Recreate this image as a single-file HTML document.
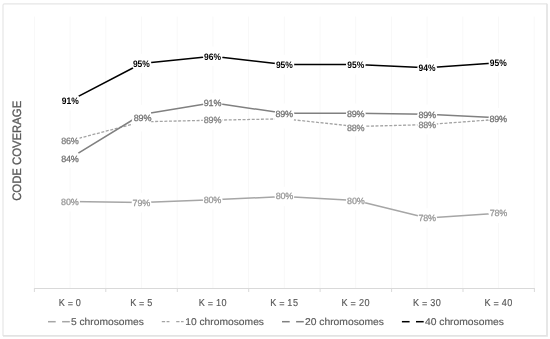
<!DOCTYPE html>
<html><head><meta charset="utf-8"><title>Code coverage chart</title>
<style>html,body{margin:0;padding:0;background:#fff;width:550px;height:339px;overflow:hidden}svg{display:block;text-rendering:geometricPrecision}</style>
</head><body>
<svg width="550" height="339" viewBox="0 0 550 339">
<rect x="0" y="0" width="550" height="339" fill="#fff"/>
<path d="M3 335.9V5.3Q3 3.8 4.5 3.8H547" stroke="#e6e6e6" stroke-width="1.2" fill="none"/>
<path d="M547 3.8V335.9H3" stroke="#e3e3e3" stroke-width="1.7" fill="none"/>
<path d="M34.4 16.5V288 M70.1 16.5V288 M105.8 16.5V288 M141.5 16.5V288 M177.2 16.5V288 M212.9 16.5V288 M248.6 16.5V288 M284.3 16.5V288 M320.0 16.5V288 M355.7 16.5V288 M391.4 16.5V288 M427.1 16.5V288 M462.8 16.5V288 M498.5 16.5V288 M534.2 16.5V288" stroke="#f8f8f8" stroke-width="1" fill="none"/>
<path d="M34.4 288.5H534.6 M34.4 288V292 M105.8 288V292 M177.3 288V292 M248.7 288V292 M320.1 288V292 M391.6 288V292 M463.0 288V292 M534.4 288V292" stroke="#d9d9d9" stroke-width="1" fill="none"/>
<text transform="scale(0.9 1)" x="65.27 65.77 75.16 75.66 84.30" y="306" dy="0 0 0.8 -0.8 0" font-family='"Liberation Sans", Arial, sans-serif' font-size="10.1" fill="#595959" stroke="#595959" stroke-width="0.15">K = 0</text>
<text transform="scale(0.9 1)" x="144.64 145.14 154.53 155.03 163.68" y="306" dy="0 0 0.8 -0.8 0" font-family='"Liberation Sans", Arial, sans-serif' font-size="10.1" fill="#595959" stroke="#595959" stroke-width="0.15">K = 5</text>
<text transform="scale(0.9 1)" x="220.78 221.28 230.84 231.34 239.90 246.20" y="306" dy="0 0 0.8 -0.8 0 0" font-family='"Liberation Sans", Arial, sans-serif' font-size="10.1" fill="#595959" stroke="#595959" stroke-width="0.15">K = 10</text>
<text transform="scale(0.9 1)" x="300.15 300.65 310.21 310.71 319.26 325.58" y="306" dy="0 0 0.8 -0.8 0 0" font-family='"Liberation Sans", Arial, sans-serif' font-size="10.1" fill="#595959" stroke="#595959" stroke-width="0.15">K = 15</text>
<text transform="scale(0.9 1)" x="379.52 380.02 389.58 390.08 398.77 404.94" y="306" dy="0 0 0.8 -0.8 0 0" font-family='"Liberation Sans", Arial, sans-serif' font-size="10.1" fill="#595959" stroke="#595959" stroke-width="0.15">K = 20</text>
<text transform="scale(0.9 1)" x="458.88 459.38 468.94 469.44 478.17 484.30" y="306" dy="0 0 0.8 -0.8 0 0" font-family='"Liberation Sans", Arial, sans-serif' font-size="10.1" fill="#595959" stroke="#595959" stroke-width="0.15">K = 30</text>
<text transform="scale(0.9 1)" x="538.25 538.75 548.31 548.81 557.53 563.67" y="306" dy="0 0 0.8 -0.8 0 0" font-family='"Liberation Sans", Arial, sans-serif' font-size="10.1" fill="#595959" stroke="#595959" stroke-width="0.15">K = 40</text>
<text transform="translate(21.2 150.8) rotate(-90)" text-anchor="middle" font-family='"Liberation Sans", Arial, sans-serif' font-size="12.2" fill="#595959" stroke="#595959" stroke-width="0.3" textLength="100" lengthAdjust="spacingAndGlyphs">CODE COVERAGE</text>
<path d="M70.2 201.6 L141.5 202.6 L212.7 199.8 L284.4 196.5 L355.8 200.5 L427.2 218.0 L498.4 213.2" stroke="#a6a6a6" stroke-width="1.5" fill="none" stroke-linejoin="round"/>
<path d="M70.2 140.6 L141.5 121.8 L212.7 120.2 L284.4 118.8 L355.8 126.5 L427.2 124.6 L498.4 119.3" stroke="#a4a4a4" stroke-width="1.3" fill="none" stroke-linejoin="round" stroke-dasharray="3,1.6"/>
<path d="M70.2 158.2 L141.5 114.5 L212.7 102.8 L284.4 113.3 L355.8 113.2 L427.2 114.2 L498.4 117.8" stroke="#808080" stroke-width="1.5" fill="none" stroke-linejoin="round"/>
<path d="M70.2 100.7 L141.5 63.5 L212.7 56.3 L284.4 64.6 L355.8 64.6 L427.2 67.8 L498.4 62.7" stroke="#000000" stroke-width="1.5" fill="none" stroke-linejoin="round"/>
<circle cx="70.2" cy="201.6" r="9.8" fill="#fff"/>
<circle cx="141.5" cy="202.6" r="9.8" fill="#fff"/>
<circle cx="212.7" cy="199.8" r="9.8" fill="#fff"/>
<circle cx="284.4" cy="196.5" r="9.8" fill="#fff"/>
<circle cx="355.8" cy="200.5" r="9.8" fill="#fff"/>
<circle cx="427.2" cy="218.0" r="9.8" fill="#fff"/>
<circle cx="498.4" cy="213.2" r="9.8" fill="#fff"/>
<circle cx="70.2" cy="140.6" r="9.8" fill="#fff"/>
<circle cx="141.5" cy="121.8" r="9.8" fill="#fff"/>
<circle cx="212.7" cy="120.2" r="9.8" fill="#fff"/>
<circle cx="284.4" cy="118.8" r="9.8" fill="#fff"/>
<circle cx="355.8" cy="126.5" r="9.8" fill="#fff"/>
<circle cx="427.2" cy="124.6" r="9.8" fill="#fff"/>
<circle cx="498.4" cy="119.3" r="9.8" fill="#fff"/>
<circle cx="70.2" cy="158.2" r="9.8" fill="#fff"/>
<circle cx="141.5" cy="114.5" r="9.8" fill="#fff"/>
<circle cx="212.7" cy="102.8" r="9.8" fill="#fff"/>
<circle cx="284.4" cy="113.3" r="9.8" fill="#fff"/>
<circle cx="355.8" cy="113.2" r="9.8" fill="#fff"/>
<circle cx="427.2" cy="114.2" r="9.8" fill="#fff"/>
<circle cx="498.4" cy="117.8" r="9.8" fill="#fff"/>
<circle cx="70.2" cy="100.7" r="9.8" fill="#fff"/>
<circle cx="141.5" cy="63.5" r="9.8" fill="#fff"/>
<circle cx="212.7" cy="56.3" r="9.8" fill="#fff"/>
<circle cx="284.4" cy="64.6" r="9.8" fill="#fff"/>
<circle cx="355.8" cy="64.6" r="9.8" fill="#fff"/>
<circle cx="427.2" cy="67.8" r="9.8" fill="#fff"/>
<circle cx="498.4" cy="62.7" r="9.8" fill="#fff"/>
<text x="69.8" y="204.72" text-anchor="middle" font-family='"Liberation Sans", Arial, sans-serif' font-size="9.0" fill="#999999" stroke="#999999" stroke-width="0.3" letter-spacing="-0.2">80%</text>
<text x="141.3" y="206.12" text-anchor="middle" font-family='"Liberation Sans", Arial, sans-serif' font-size="9.0" fill="#999999" stroke="#999999" stroke-width="0.3" letter-spacing="-0.2">79%</text>
<text x="212.4" y="203.22" text-anchor="middle" font-family='"Liberation Sans", Arial, sans-serif' font-size="9.0" fill="#999999" stroke="#999999" stroke-width="0.3" letter-spacing="-0.2">80%</text>
<text x="284.4" y="199.22" text-anchor="middle" font-family='"Liberation Sans", Arial, sans-serif' font-size="9.0" fill="#999999" stroke="#999999" stroke-width="0.3" letter-spacing="-0.2">80%</text>
<text x="355.8" y="203.92" text-anchor="middle" font-family='"Liberation Sans", Arial, sans-serif' font-size="9.0" fill="#999999" stroke="#999999" stroke-width="0.3" letter-spacing="-0.2">80%</text>
<text x="427.2" y="221.32" text-anchor="middle" font-family='"Liberation Sans", Arial, sans-serif' font-size="9.0" fill="#999999" stroke="#999999" stroke-width="0.3" letter-spacing="-0.2">78%</text>
<text x="498.4" y="216.12" text-anchor="middle" font-family='"Liberation Sans", Arial, sans-serif' font-size="9.0" fill="#999999" stroke="#999999" stroke-width="0.3" letter-spacing="-0.2">78%</text>
<text x="69.9" y="144.07" text-anchor="middle" font-family='"Liberation Sans", Arial, sans-serif' font-size="9.0" fill="#808080" stroke="#808080" stroke-width="0.3" letter-spacing="-0.2">86%</text>
<text x="212.5" y="123.32" text-anchor="middle" font-family='"Liberation Sans", Arial, sans-serif' font-size="9.0" fill="#808080" stroke="#808080" stroke-width="0.3" letter-spacing="-0.2">89%</text>
<text x="355.6" y="130.62" text-anchor="middle" font-family='"Liberation Sans", Arial, sans-serif' font-size="9.0" fill="#808080" stroke="#808080" stroke-width="0.3" letter-spacing="-0.2">88%</text>
<text x="427.1" y="128.42" text-anchor="middle" font-family='"Liberation Sans", Arial, sans-serif' font-size="9.0" fill="#808080" stroke="#808080" stroke-width="0.3" letter-spacing="-0.2">88%</text>
<text x="69.9" y="161.92" text-anchor="middle" font-family='"Liberation Sans", Arial, sans-serif' font-size="9.0" fill="#727272" stroke="#727272" stroke-width="0.3" letter-spacing="-0.2">84%</text>
<text x="142.5" y="121.12" text-anchor="middle" font-family='"Liberation Sans", Arial, sans-serif' font-size="9.0" fill="#727272" stroke="#727272" stroke-width="0.3" letter-spacing="-0.2">89%</text>
<text x="212.5" y="105.82" text-anchor="middle" font-family='"Liberation Sans", Arial, sans-serif' font-size="9.0" fill="#727272" stroke="#727272" stroke-width="0.3" letter-spacing="-0.2">91%</text>
<text x="284.2" y="117.12" text-anchor="middle" font-family='"Liberation Sans", Arial, sans-serif' font-size="9.0" fill="#727272" stroke="#727272" stroke-width="0.3" letter-spacing="-0.2">89%</text>
<text x="355.6" y="116.72" text-anchor="middle" font-family='"Liberation Sans", Arial, sans-serif' font-size="9.0" fill="#727272" stroke="#727272" stroke-width="0.3" letter-spacing="-0.2">89%</text>
<text x="427.1" y="117.82" text-anchor="middle" font-family='"Liberation Sans", Arial, sans-serif' font-size="9.0" fill="#727272" stroke="#727272" stroke-width="0.3" letter-spacing="-0.2">89%</text>
<text x="498.2" y="121.62" text-anchor="middle" font-family='"Liberation Sans", Arial, sans-serif' font-size="9.0" fill="#727272" stroke="#727272" stroke-width="0.3" letter-spacing="-0.2">89%</text>
<text x="70.3" y="103.82" text-anchor="middle" font-family='"Liberation Sans", Arial, sans-serif' font-size="9.4" font-weight="bold" fill="#000000" stroke="#000000" stroke-width="0" textLength="17.0" lengthAdjust="spacingAndGlyphs">91%</text>
<text x="141.4" y="66.62" text-anchor="middle" font-family='"Liberation Sans", Arial, sans-serif' font-size="9.4" font-weight="bold" fill="#000000" stroke="#000000" stroke-width="0" textLength="17.0" lengthAdjust="spacingAndGlyphs">95%</text>
<text x="212.6" y="59.92" text-anchor="middle" font-family='"Liberation Sans", Arial, sans-serif' font-size="9.4" font-weight="bold" fill="#000000" stroke="#000000" stroke-width="0" textLength="17.0" lengthAdjust="spacingAndGlyphs">96%</text>
<text x="284.4" y="67.72" text-anchor="middle" font-family='"Liberation Sans", Arial, sans-serif' font-size="9.4" font-weight="bold" fill="#000000" stroke="#000000" stroke-width="0" textLength="17.0" lengthAdjust="spacingAndGlyphs">95%</text>
<text x="355.7" y="67.72" text-anchor="middle" font-family='"Liberation Sans", Arial, sans-serif' font-size="9.4" font-weight="bold" fill="#000000" stroke="#000000" stroke-width="0" textLength="17.0" lengthAdjust="spacingAndGlyphs">95%</text>
<text x="427.1" y="70.92" text-anchor="middle" font-family='"Liberation Sans", Arial, sans-serif' font-size="9.4" font-weight="bold" fill="#000000" stroke="#000000" stroke-width="0" textLength="17.0" lengthAdjust="spacingAndGlyphs">94%</text>
<text x="498.3" y="65.82" text-anchor="middle" font-family='"Liberation Sans", Arial, sans-serif' font-size="9.4" font-weight="bold" fill="#000000" stroke="#000000" stroke-width="0" textLength="17.0" lengthAdjust="spacingAndGlyphs">95%</text>
<path d="M48.0 321.7H69.8" stroke="#a6a6a6" stroke-width="1.5" fill="none"/>
<rect x="55.7" y="316" width="6.4" height="11" fill="#fff"/>
<text x="70.9" y="324.7" font-family='"Liberation Sans", Arial, sans-serif' font-size="9.9" fill="#595959" stroke="#595959" stroke-width="0.15" textLength="73.0" lengthAdjust="spacingAndGlyphs">5 chromosomes</text>
<path d="M161.8 321.7H183.6" stroke="#a4a4a4" stroke-width="1.3" fill="none" stroke-dasharray="3.3,1.5"/>
<rect x="169.5" y="316" width="6.4" height="11" fill="#fff"/>
<text x="185.2" y="324.7" font-family='"Liberation Sans", Arial, sans-serif' font-size="9.9" fill="#595959" stroke="#595959" stroke-width="0.15" textLength="78.8" lengthAdjust="spacingAndGlyphs">10 chromosomes</text>
<path d="M282.0 321.7H303.8" stroke="#808080" stroke-width="1.5" fill="none"/>
<rect x="289.7" y="316" width="6.4" height="11" fill="#fff"/>
<text x="305.0" y="324.7" font-family='"Liberation Sans", Arial, sans-serif' font-size="9.9" fill="#595959" stroke="#595959" stroke-width="0.15" textLength="79.0" lengthAdjust="spacingAndGlyphs">20 chromosomes</text>
<path d="M401.9 321.7H423.7" stroke="#000000" stroke-width="1.5" fill="none"/>
<rect x="409.6" y="316" width="6.4" height="11" fill="#fff"/>
<text x="424.9" y="324.7" font-family='"Liberation Sans", Arial, sans-serif' font-size="9.9" fill="#595959" stroke="#595959" stroke-width="0.15" textLength="79.1" lengthAdjust="spacingAndGlyphs">40 chromosomes</text>
</svg>
</body></html>
